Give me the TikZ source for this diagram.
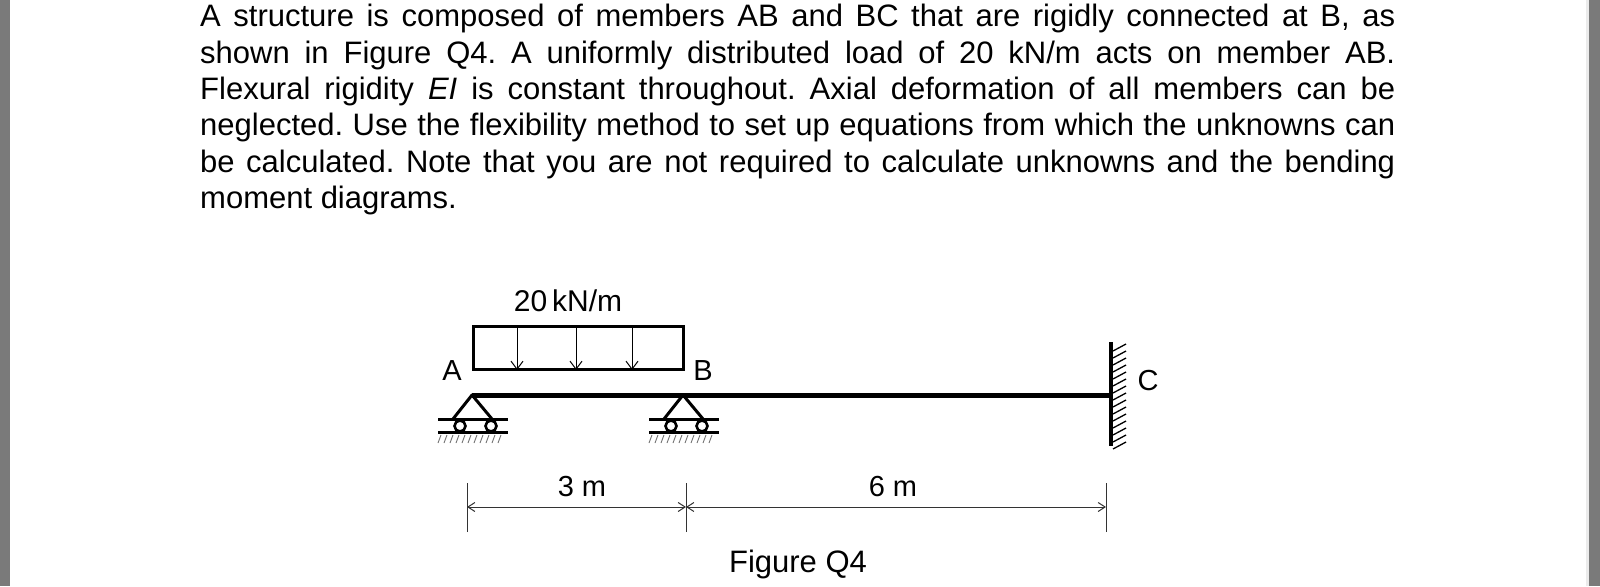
\documentclass[tikz,border=0pt]{standalone}
\usepackage{fontspec}
\setmainfont{Liberation Sans}
\usetikzlibrary{arrows.meta}
\begin{document}
\begin{tikzpicture}[x=1pt,y=-1pt,
  dimline/.style={draw=black!80,line width=1pt,{Straight Barb[length=7pt,width=9pt]}-{Straight Barb[length=7pt,width=9pt]}},
  tick/.style={draw=black!80,line width=1pt},
  lbl/.style={inner sep=0pt,anchor=base},
  supline/.style={line width=3pt}]
\useasboundingbox (0,0) rectangle (1600,586);
\fill[black!52] (0,0) rectangle (10,586);
\fill[black!52] (1589,0) rectangle (1600,586);
\fill[black!8] (1586,0) rectangle (1589,586);
% paragraph
\node[anchor=north west,inner sep=0pt,text width=1195pt,align=justify,font=\frenchspacing\fontsize{31}{36.4}\selectfont] (para) at (200,4)
{A structure is composed of members AB and BC that are rigidly connected at B, as\linebreak shown in Figure Q4. A uniformly distributed load of 20 kN/m acts on member AB.\linebreak Flexural rigidity \textit{EI} is constant throughout. Axial deformation of all members can be\linebreak neglected. Use the flexibility method to set up equations from which the unknowns can\linebreak be calculated. Note that you are not required to calculate unknowns and the bending\linebreak moment diagrams.};
% beam
\coordinate (A) at (472,395);
\coordinate (B) at (683,395);
\coordinate (C) at (1111,395);
\draw[line width=5pt] (A) -- (C);
% load
\node[draw,line width=2.6pt,minimum width=210pt,minimum height=43pt,inner sep=0pt,anchor=south west] (load) at (472,371) {};
\foreach \x in {517,576,632}{\draw[line width=1pt,-{Straight Barb[length=8pt,width=12pt]}] (\x,328) -- (\x,370);}
\node[lbl,font=\fontsize{30}{32}\selectfont] (q) at (568,311) {20\,kN/m};
\node[lbl,font=\fontsize{29}{32}\selectfont] (la) at (452,380) {A};
\node[lbl,font=\fontsize{29}{32}\selectfont] (lb) at (703,380) {B};
\node[lbl,font=\fontsize{29}{32}\selectfont] (lc) at (1148,390) {C};
% supports
\foreach \p in {A,B}{
 \begin{scope}[shift={(\p)}]
  \draw[supline,line join=round] (-19,24) -- (0,0) -- (20,24);
  \draw[supline] (-34,24) -- (36,24);
  \draw[supline] (-34,37) -- (36,37);
  \draw[line width=2.6pt,fill=white] (-12,31) circle (5.5);
  \draw[line width=2.6pt,fill=white] (19,31) circle (5.5);
  \foreach \h in {-31,-25,...,34}{\draw[black!55,line width=0.9pt] (\h,40) -- (\h-3,48);}
 \end{scope}}
% wall
\draw[line width=4.5pt] (1111,342) -- (1111,446);
\foreach \h in {344,351,...,442}{\draw[line width=1.3pt] (1113,\h+7) -- (1126,\h);}
% dims
\coordinate (d1) at (467,507);
\coordinate (d2) at (686,507);
\coordinate (d3) at (1106,507);
\foreach \d in {d1,d2,d3}{\draw[tick] ([yshift=-25pt]\d) -- ([yshift=24pt]\d);}
\draw[dimline] (d1) -- (d2);
\draw[dimline] (d2) -- (d3);
\node[lbl,font=\fontsize{29}{32}\selectfont] (l3) at (582,496) {3 m};
\node[lbl,font=\fontsize{29}{32}\selectfont] (l6) at (893,496) {6 m};
\node[lbl,font=\fontsize{31}{34}\selectfont] (fig) at (798,572) {Figure Q4};
\end{tikzpicture}
\end{document}
